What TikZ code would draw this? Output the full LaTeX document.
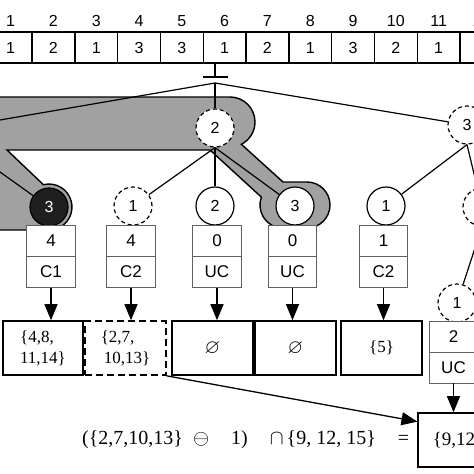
\documentclass[tikz,border=0pt]{standalone}
\usepackage{amssymb}
\usepackage{fontspec}
\setmainfont{Liberation Sans}
\newfontfamily\setsfont{Liberation Serif}
\usetikzlibrary{arrows.meta,calc}

\newlength{\du}
\setlength{\du}{10pt}

\definecolor{hlgray}{rgb}{0.630000, 0.630000, 0.630000}
\definecolor{knotblack}{rgb}{0.120000, 0.120000, 0.120000}
\definecolor{boxgray}{rgb}{0.380000, 0.380000, 0.380000}

\tikzset{
  cell/.style={draw, line width=1.4pt, minimum width=4.28\du, minimum height=3.1\du, inner sep=0pt, font=\fontsize{16}{18}\selectfont},
  idx/.style={inner sep=0pt, font=\fontsize{16}{18}\selectfont},
  vert/.style={circle, draw, fill=white, line width=1.2pt, minimum size=3.8\du, inner sep=0pt, font=\fontsize{16}{18}\selectfont},
  ghost/.style={vert, dash pattern=on 4pt off 3pt},
  hit/.style={vert, fill=knotblack, text=white},
  infobox/.style={draw=boxgray, fill=white, line width=0.9pt, minimum width=4.85\du, minimum height=3.1\du, inner sep=0pt, font=\fontsize{17}{18}\selectfont},
  posset/.style={draw, fill=white, line width=1.6pt, minimum width=8.05\du, minimum height=5.4\du, inner sep=0pt, align=left, font=\setsfont\fontsize{17}{21}\selectfont},
  noset/.style={posset, font=\fontsize{20}{22}\selectfont},
  link/.style={line width=1.2pt},
  flow/.style={line width=1.3pt, -{Triangle[length=16pt,width=13pt]}},
  hl/.style={fill=hlgray, draw=black, line width=1.4pt}
}

\begin{document}
\begin{tikzpicture}
\pgftransformyscale{-1.000000}
\useasboundingbox (0\du,0\du) rectangle (47.4\du,47.4\du);
\clip (0\du,0\du) rectangle (47.4\du,47.4\du);

% highlighted part of the tree
\filldraw[hl] (-1\du,9.7\du) -- (23\du,9.7\du) arc[start angle=-90, end angle=63, radius=2.5\du]
  -- (28.3\du,18.2\du) -- (30.7\du,18.2\du) arc[start angle=-90, end angle=90, radius=2.3\du]
  -- (28.3\du,22.8\du) arc[start angle=90, end angle=200, radius=2.3\du]
  -- (21\du,15\du) -- (0.7\du,15\du) -- (4.34\du,18.47\du) arc[start angle=-104, end angle=90, radius=2.3\du]
  -- (-1\du,23\du) -- cycle;

% positions and sequence
\foreach \i in {1,...,12}{
  \pgfmathsetmacro\cx{1.06+4.28*(\i-1)}
  \node[idx] (n\i) at (\cx\du,2.1\du) {\i};
}
\foreach \v [count=\i] in {1,2,1,3,3,1,2,1,3,2,1}{
  \pgfmathsetmacro\cx{1.06+4.28*(\i-1)}
  \node[cell] (c\i) at (\cx\du,4.75\du) {\v};
}
\node[cell] (c12) at (48.14\du,4.75\du) {};

% root
\coordinate (bar) at (21.5\du,7.7\du);
\coordinate (apex) at (21.5\du,8.3\du);
\coordinate (offl) at (-5\du,12.86\du);
\coordinate (offk) at (-4\du,14.34\du);
\draw[link] (c6.south -| bar) -- (bar);
\draw[link] ([xshift=-1.25\du]bar) -- ([xshift=1.25\du]bar);

% tree nodes
\node[ghost] (d2) at (21.5\du,12.8\du) {2};
\node[ghost] (d3) at (46.7\du,12.5\du) {3};
\node[hit] (k3) at (4.9\du,20.7\du) {3};
\node[ghost] (d1) at (13.3\du,20.6\du) {1};
\node[vert] (w2) at (21.5\du,20.6\du) {2};
\node[vert] (w3) at (29.5\du,20.6\du) {3};
\node[vert] (w1) at (38.6\du,20.6\du) {1};
\node[ghost] (dr) at (48.2\du,20.7\du) {};
\node[ghost] (e1) at (45.7\du,30.3\du) {1};

% tree edges
\draw[link] (apex) -- (offl);
\draw[link] (apex) -- (d2);
\draw[link] (apex) -- (d3);
\draw[link] (offk) -- (k3);
\draw[link] (d2.south) -- (d1);
\draw[link] (d2.south) -- (w2);
\draw[link] (d2.south) -- (w3);
\draw[link] (d3.south) -- (w1);
\draw[link] (d3.south) -- (dr);
\draw[link] (dr.south) -- (e1);

% count / class boxes
\node[infobox] (t1) at (5.1\du,24.1\du) {4};
\node[infobox] (b1) at (5.1\du,27.2\du) {C1};
\node[infobox] (t2) at (13.1\du,24.1\du) {4};
\node[infobox] (b2) at (13.1\du,27.2\du) {C2};
\node[infobox] (t3) at (21.7\du,24.1\du) {0};
\node[infobox] (b3) at (21.7\du,27.2\du) {UC};
\node[infobox] (t4) at (29.25\du,24.1\du) {0};
\node[infobox] (b4) at (29.25\du,27.2\du) {UC};
\node[infobox] (t5) at (38.35\du,24.1\du) {1};
\node[infobox] (b5) at (38.35\du,27.2\du) {C2};
\node[infobox] (t6) at (45.35\du,33.65\du) {2};
\node[infobox] (b6) at (45.35\du,36.75\du) {UC};

% position sets
\node[posset] (s1) at (4.3\du,34.8\du) {\{4,8,\\11,14\}};
\node[posset, dash pattern=on 7pt off 4pt] (s2) at (12.55\du,34.8\du) {\{2,7,\\\hspace*{3pt}10,13\}};
\node[noset] (s3) at (21.25\du,34.8\du) {$\varnothing$};
\node[noset] (s4) at (29.55\du,34.8\du) {$\varnothing$};
\node[posset] (s5) at (38.15\du,34.8\du) {\{5\}};
\node[posset, font=\setsfont\fontsize{19}{20}\selectfont] (res) at (45.85\du,44.0\du) {\{9,12\}};

\foreach \k in {1,...,5}{
  \draw[flow] (b\k.south) -- (b\k.south |- s\k.north);
}
\draw[flow] (b6.south) -- (b6.south |- res.north);
\draw[flow] (s2.south east) -- ($(res.north west)!0.17!(res.south west)$);

% formula
\node[anchor=west, inner sep=0pt, font=\setsfont\fontsize{20}{22}\selectfont] (eqn) at (8.2\du,44.0\du)
  {(\{2,7,10,13\}\hspace{10pt}$\ominus$\hspace{22pt}1)\hspace{22pt}$\cap$\hspace{3pt}\{9, 12, 15\}\hspace{22pt}=};
\end{tikzpicture}
\end{document}
